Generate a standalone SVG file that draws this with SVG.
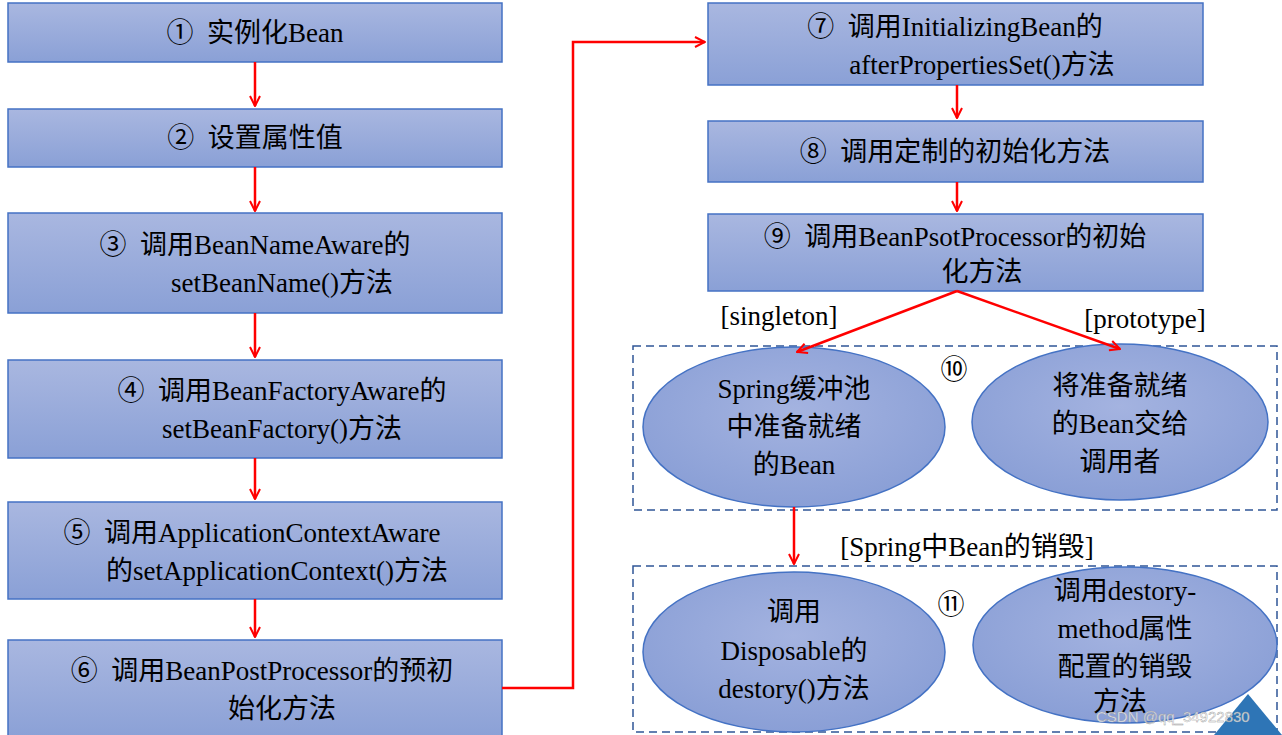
<svg xmlns="http://www.w3.org/2000/svg" width="1282" height="735" viewBox="0 0 1282 735">
<defs>
<linearGradient id="g" x1="0" y1="0" x2="0" y2="1"><stop offset="0" stop-color="#a9b7e0"/><stop offset="1" stop-color="#8aa0d6"/></linearGradient>
<radialGradient id="e" cx="0.5" cy="0.4" r="0.6"><stop offset="0" stop-color="#a4b3e0"/><stop offset="1" stop-color="#8a9fd6"/></radialGradient>
<marker id="a" viewBox="0 0 12 12" refX="11" refY="6" markerWidth="12" markerHeight="12" markerUnits="userSpaceOnUse" orient="auto"><path d="M1,1 L11,6 L1,11" fill="none" stroke="#f00" stroke-width="2"/></marker>
</defs>
<style>
.b{fill:url(#g);stroke:#4472c4;stroke-width:1.5}
.el{fill:url(#e);stroke:#4472c4;stroke-width:1.5}
.d{fill:none;stroke:#2f5597;stroke-width:1.5;stroke-dasharray:8 5}
text{font-family:'Liberation Serif','DejaVu Serif','Noto Sans CJK SC',serif;font-size:27px;fill:#000;text-anchor:middle}
.c{fill:none;stroke:#f00;stroke-width:2.5;marker-end:url(#a)}
.wm{font-family:'Liberation Sans',sans-serif;font-size:15px;text-anchor:start;fill:#fff;fill-opacity:0.8;stroke:#999;stroke-width:0.4}
</style>
<rect width="1282" height="735" fill="#fff"/>
<g id="n1"><rect class="b" x="8" y="3" width="494" height="59"/><text x="255" y="42">①&#160;&#160;实例化Bean</text></g>
<g id="n2"><rect class="b" x="8" y="109" width="494" height="58"/><text x="255" y="147">②&#160;&#160;设置属性值</text></g>
<g id="n3"><rect class="b" x="8" y="213" width="494" height="100"/><text x="255" y="254">③&#160;&#160;调用BeanNameAware的</text><text x="282" y="292">setBeanName()方法</text></g>
<g id="n4"><rect class="b" x="8" y="360" width="494" height="98"/><text x="282" y="400">④&#160;&#160;调用BeanFactoryAware的</text><text x="282" y="438">setBeanFactory()方法</text></g>
<g id="n5"><rect class="b" x="8" y="502" width="494" height="97"/><text x="252" y="542">⑤&#160;&#160;调用ApplicationContextAware</text><text x="277" y="580">的setApplicationContext()方法</text></g>
<g id="n6"><rect class="b" x="8" y="640" width="494" height="100"/><text x="262" y="680">⑥&#160;&#160;调用BeanPostProcessor的预初</text><text x="282" y="718">始化方法</text></g>
<g id="n7"><rect class="b" x="708" y="3" width="495" height="82"/><text x="955" y="36">⑦&#160;&#160;调用InitializingBean的</text><text x="982" y="74">afterPropertiesSet()方法</text></g>
<g id="n8"><rect class="b" x="708" y="121" width="495" height="61"/><text x="955" y="161">⑧&#160;&#160;调用定制的初始化方法</text></g>
<g id="n9"><rect class="b" x="708" y="214" width="495" height="77"/><text x="955" y="246">⑨&#160;&#160;调用BeanPsotProcessor的初始</text><text x="982" y="281">化方法</text></g>
<g id="g10"><rect class="d" x="633" y="346" width="644" height="164"/><text x="954" y="379" font-size="22">⑩</text></g>
<g id="e1"><ellipse class="el" cx="794" cy="427" rx="151" ry="80"/><text x="794" y="398">Spring缓冲池</text><text x="794" y="436">中准备就绪</text><text x="794" y="474">的Bean</text></g>
<g id="e2"><ellipse class="el" cx="1120" cy="422" rx="148" ry="78"/><text x="1120" y="395">将准备就绪</text><text x="1120" y="433">的Bean交给</text><text x="1120" y="471">调用者</text></g>
<g id="g11"><rect class="d" x="633" y="566" width="644" height="166"/><text x="951" y="614" font-size="22">⑪</text></g>
<g id="e3"><ellipse class="el" cx="794" cy="652" rx="151" ry="80"/><text x="794" y="621">调用</text><text x="794" y="660">Disposable的</text><text x="794" y="698">destory()方法</text></g>
<g id="e4"><ellipse class="el" cx="1125" cy="645" rx="152" ry="78"/><text x="1125" y="600">调用destory-</text><text x="1125" y="638">method属性</text><text x="1125" y="676">配置的销毁</text><text x="1120" y="711">方法</text></g>
<g id="connectors">
<path class="c" d="M255,62 V106"/>
<path class="c" d="M255,167 V211"/>
<path class="c" d="M255,313 V357"/>
<path class="c" d="M255,458 V499"/>
<path class="c" d="M255,599 V637"/>
<path class="c" d="M502,688 H573 V42 H705"/>
<path class="c" d="M957,85 V118"/>
<path class="c" d="M957,182 V211"/>
<path class="c" d="M957,291 L797,352"/>
<path class="c" d="M957,291 L1120,349"/>
<path class="c" d="M794,507 V564"/>
</g>
<g id="labels">
<text x="779" y="325" font-size="26">[singleton]</text>
<text x="1145" y="328" font-size="26">[prototype]</text>
<text x="967" y="556" font-size="26">[Spring中Bean的销毁]</text>
</g>
<polygon points="1248,694 1282,735 1214,735" fill="#2e75b6"/>
<text class="wm" x="1096" y="722">CSDN @qq_34922830</text>
</svg>
